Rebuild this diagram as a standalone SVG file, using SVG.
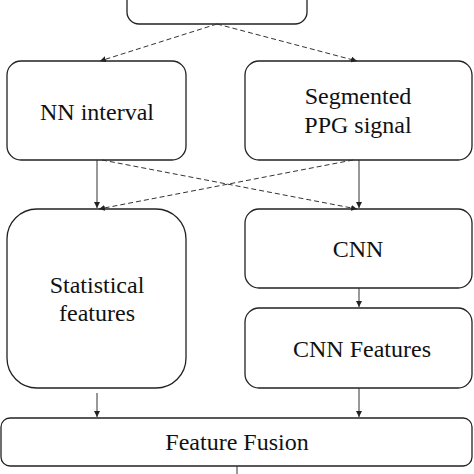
<svg xmlns="http://www.w3.org/2000/svg" width="474" height="474" viewBox="0 0 474 474">
<style>
.box{fill:#fff;stroke:#222;stroke-width:1.3}
.t{font-family:'Times New Roman','Liberation Serif',Times,'DejaVu Serif',serif;font-size:24px;fill:#111;text-anchor:middle}
.c{stroke:#333;stroke-width:1;fill:none}
.d{stroke-dasharray:5,3}
</style>
<defs>
<marker id="ah" viewBox="0 0 10 10" refX="10" refY="5" markerWidth="6" markerHeight="6" markerUnits="userSpaceOnUse" orient="auto">
<path d="M0,0 L10,5 L0,10 z" fill="#222"/>
</marker>
</defs>
<rect width="474" height="474" fill="#fff"/>
<g id="top"><rect class="box" x="127" y="-20" width="180" height="44" rx="12"/></g>
<g id="nn"><rect class="box" x="7" y="61" width="179" height="99" rx="14"/><text class="t" x="97" y="120">NN interval</text></g>
<g id="seg"><rect class="box" x="245" y="61" width="227" height="99" rx="14"/><text class="t" x="358" y="104">Segmented</text><text class="t" x="358" y="133">PPG signal</text></g>
<g id="stat"><rect class="box" x="7" y="209" width="179" height="179" rx="30"/><text class="t" x="97" y="293">Statistical</text><text class="t" x="97" y="321">features</text></g>
<g id="cnn"><rect class="box" x="245" y="209" width="227" height="79" rx="14"/><text class="t" x="358" y="257">CNN</text></g>
<g id="cnnf"><rect class="box" x="245" y="308" width="227" height="80" rx="14"/><text class="t" x="362" y="357">CNN Features</text></g>
<g id="fusion"><rect class="box" x="1" y="418" width="471" height="48" rx="9"/><text class="t" x="237" y="450">Feature Fusion</text></g>
<g id="connectors">
<line class="c d" x1="217" y1="24" x2="100" y2="61" marker-end="url(#ah)"/>
<line class="c d" x1="217" y1="24" x2="357" y2="61" marker-end="url(#ah)"/>
<line class="c" x1="97" y1="160" x2="97" y2="208" marker-end="url(#ah)"/>
<line class="c" x1="359" y1="160" x2="359" y2="208" marker-end="url(#ah)"/>
<line class="c d" x1="102" y1="160" x2="357" y2="209" marker-end="url(#ah)"/>
<line class="c d" x1="353" y1="160" x2="99" y2="209" marker-end="url(#ah)"/>
<line class="c" x1="359" y1="288" x2="359" y2="307" marker-end="url(#ah)"/>
<line class="c" x1="97" y1="393" x2="97" y2="417" marker-end="url(#ah)"/>
<line class="c" x1="359" y1="388" x2="359" y2="417" marker-end="url(#ah)"/>
<line class="c" x1="237" y1="466" x2="237" y2="474"/>
</g>
</svg>
